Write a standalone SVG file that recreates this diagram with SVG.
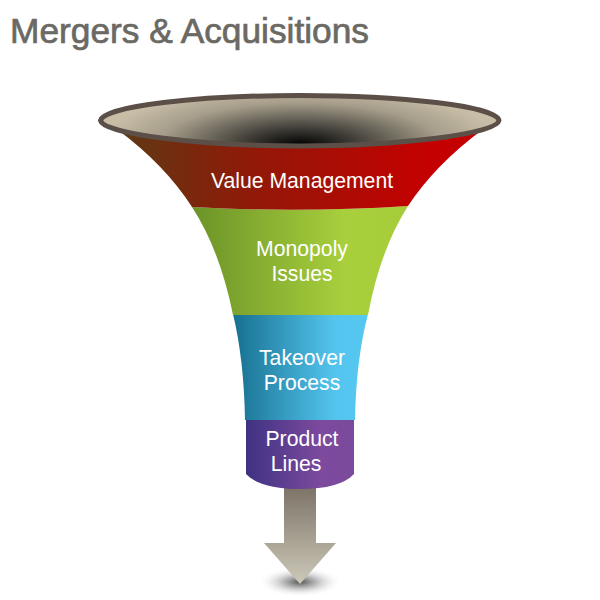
<svg xmlns="http://www.w3.org/2000/svg" width="600" height="600" viewBox="0 0 600 600">
<style>
.t{font-family:"Liberation Sans",Arial,sans-serif;font-size:21.2px;fill:#fff;text-anchor:middle}
.h{font-family:"Liberation Sans",Arial,sans-serif;font-size:35.300px;fill:#6b6963;stroke:#6b6963;stroke-width:.7px}
</style>
<defs>
<linearGradient id="r" gradientUnits="userSpaceOnUse" x1="120" x2="480" y1="0" y2="0"><stop offset="0" stop-color="#5e3a14"/><stop offset=".35" stop-color="#8f1a08"/><stop offset=".85" stop-color="#c40000"/><stop offset="1" stop-color="#c40000"/></linearGradient>
<linearGradient id="g" gradientUnits="userSpaceOnUse" x1="190" x2="410" y1="0" y2="0"><stop offset="0" stop-color="#6a9227"/><stop offset=".7" stop-color="#a8cf3c"/><stop offset="1" stop-color="#a6cc3a"/></linearGradient>
<linearGradient id="b" gradientUnits="userSpaceOnUse" x1="233" x2="368" y1="0" y2="0"><stop offset="0" stop-color="#17708f"/><stop offset=".75" stop-color="#53c4ee"/><stop offset="1" stop-color="#55c8f0"/></linearGradient>
<linearGradient id="p" gradientUnits="userSpaceOnUse" x1="246" x2="354" y1="0" y2="0"><stop offset="0" stop-color="#3f3282"/><stop offset=".7" stop-color="#7d4a9e"/><stop offset="1" stop-color="#7a4a9c"/></linearGradient>
<linearGradient id="s" gradientUnits="userSpaceOnUse" x1="0" x2="0" y1="488" y2="584"><stop offset="0" stop-color="#7d7467"/><stop offset="1" stop-color="#cdc9b9"/></linearGradient>
<radialGradient id="in" gradientUnits="userSpaceOnUse" cx="300" cy="145" r="200" gradientTransform="translate(0 101.500) scale(1 .3)"><stop offset="0" stop-color="#000"/><stop offset=".3" stop-color="#45423c"/><stop offset=".7" stop-color="#a59d8a"/><stop offset="1" stop-color="#c8bea8"/></radialGradient>
<radialGradient id="sh"><stop offset="0" stop-color="#555"/><stop offset=".4" stop-color="#aaa" stop-opacity=".8"/><stop offset="1" stop-color="#fff" stop-opacity="0"/></radialGradient>
</defs>
<text class="h" x="10" y="43">Mergers &amp; Acquisitions</text>
<g id="arrow">
<ellipse cx="300" cy="582" rx="42" ry="15" fill="url(#sh)"/>
<path d="M284 480H316V543H336L300 584L264 543H284Z" fill="url(#s)"/>
</g>
<g id="product-lines">
<path d="M246 419H354L354 474Q340 489 300 489Q260 489 246 474Z" fill="url(#p)"/>
<text class="t" x="302" y="446">Product</text>
<text class="t" x="296" y="471">Lines</text>
</g>
<g id="takeover-process">
<path d="M233 314H368Q356 360 355 420H245Q244 360 233 314Z" fill="url(#b)"/>
<text class="t" x="302" y="365">Takeover</text>
<text class="t" x="302" y="390">Process</text>
</g>
<g id="monopoly-issues">
<path d="M192 207Q300 213 408 206Q380 250 368 315H233Q220 250 192 207Z" fill="url(#g)"/>
<text class="t" x="302" y="256">Monopoly</text>
<text class="t" x="302" y="281">Issues</text>
</g>
<g id="value-management">
<path d="M118 130H482Q435 165 408 206Q300 213 192 207Q165 165 118 130Z" fill="url(#r)"/>
<text class="t" x="302" y="188">Value Management</text>
</g>
<g id="rim">
<path d="M100.500 120.500C103 106 200 95.500 300 95.500C400 95.500 497 106 499 120.500C497 134 400 146 300 146C200 146 103 134 100.500 120.500Z" fill="url(#in)" stroke="#5b4f47" stroke-width="5" stroke-linejoin="round"/>
</g>
</svg>
